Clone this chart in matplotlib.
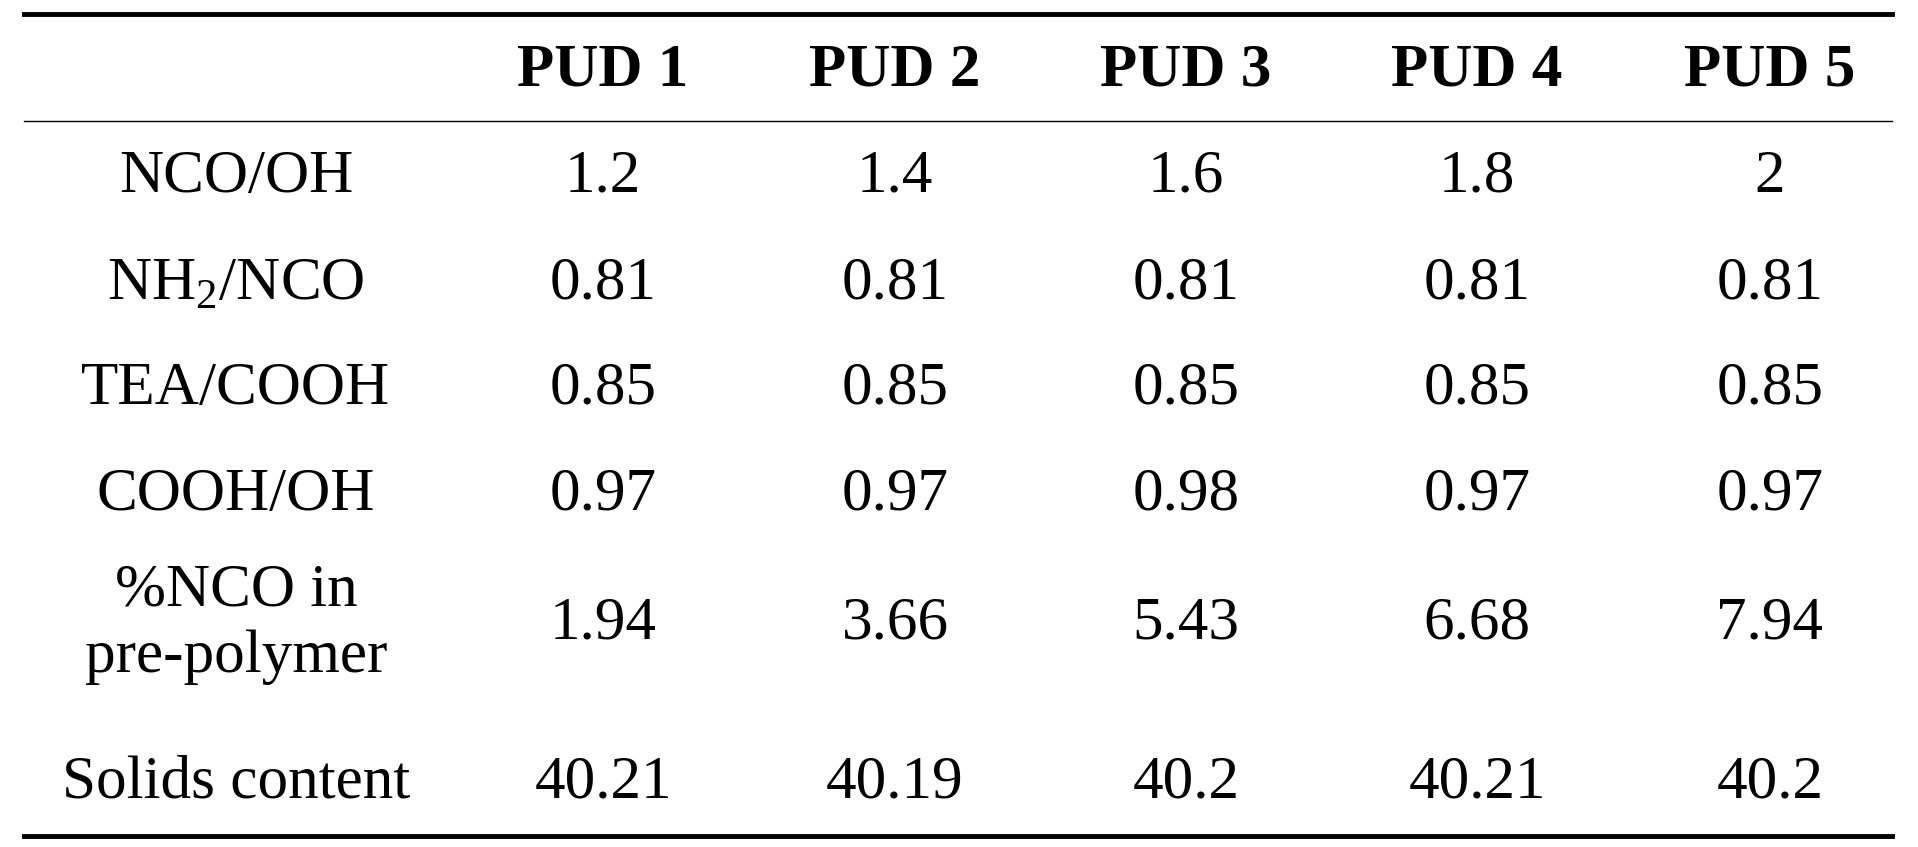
import matplotlib

matplotlib.use("Agg")
import matplotlib.pyplot as plt

W, H = 1918, 847

columns = ["PUD 1", "PUD 2", "PUD 3", "PUD 4", "PUD 5"]
row_labels = ["NCO/OH", "NH$_2$/NCO", "TEA/COOH", "COOH/OH",
              "%NCO in\npre-polymer", "Solids content"]
values = [
    ["1.2", "1.4", "1.6", "1.8", "2"],
    ["0.81", "0.81", "0.81", "0.81", "0.81"],
    ["0.85", "0.85", "0.85", "0.85", "0.85"],
    ["0.97", "0.97", "0.98", "0.97", "0.97"],
    ["1.94", "3.66", "5.43", "6.68", "7.94"],
    ["40.21", "40.19", "40.2", "40.21", "40.2"],
]

col_x = [236, 603, 895, 1186, 1477, 1770]
row_y = [177, 284, 389, 495, 624, 783]
header_y = 71

plt.rcParams["font.family"] = ["Liberation Serif", "DejaVu Serif"]
plt.rcParams["mathtext.fontset"] = "custom"
plt.rcParams["mathtext.rm"] = "Liberation Serif"

fig = plt.figure(figsize=(W / 100, H / 100), dpi=100)
ax = fig.add_axes([0, 0, 1, 1])
ax.set_xlim(0, W)
ax.set_ylim(H, 0)
ax.axis("off")

fs = 44
for x, name in zip(col_x[1:], columns):
    ax.text(x, header_y, name, ha="center", va="center", fontsize=fs, fontweight="bold")

for y, label, vals in zip(row_y, row_labels, values):
    ax.text(col_x[0], y, label, ha="center", va="center", fontsize=fs, linespacing=1.25)
    for x, v in zip(col_x[1:], vals):
        ax.text(x, y, v, ha="center", va="center", fontsize=fs)

ax.plot([24, 1892], [14, 14], color="black", lw=3.5)
ax.plot([24, 1892], [121, 121], color="black", lw=1)
ax.plot([24, 1892], [836, 836], color="black", lw=3.5)

fig.savefig("out.png", dpi=100)
